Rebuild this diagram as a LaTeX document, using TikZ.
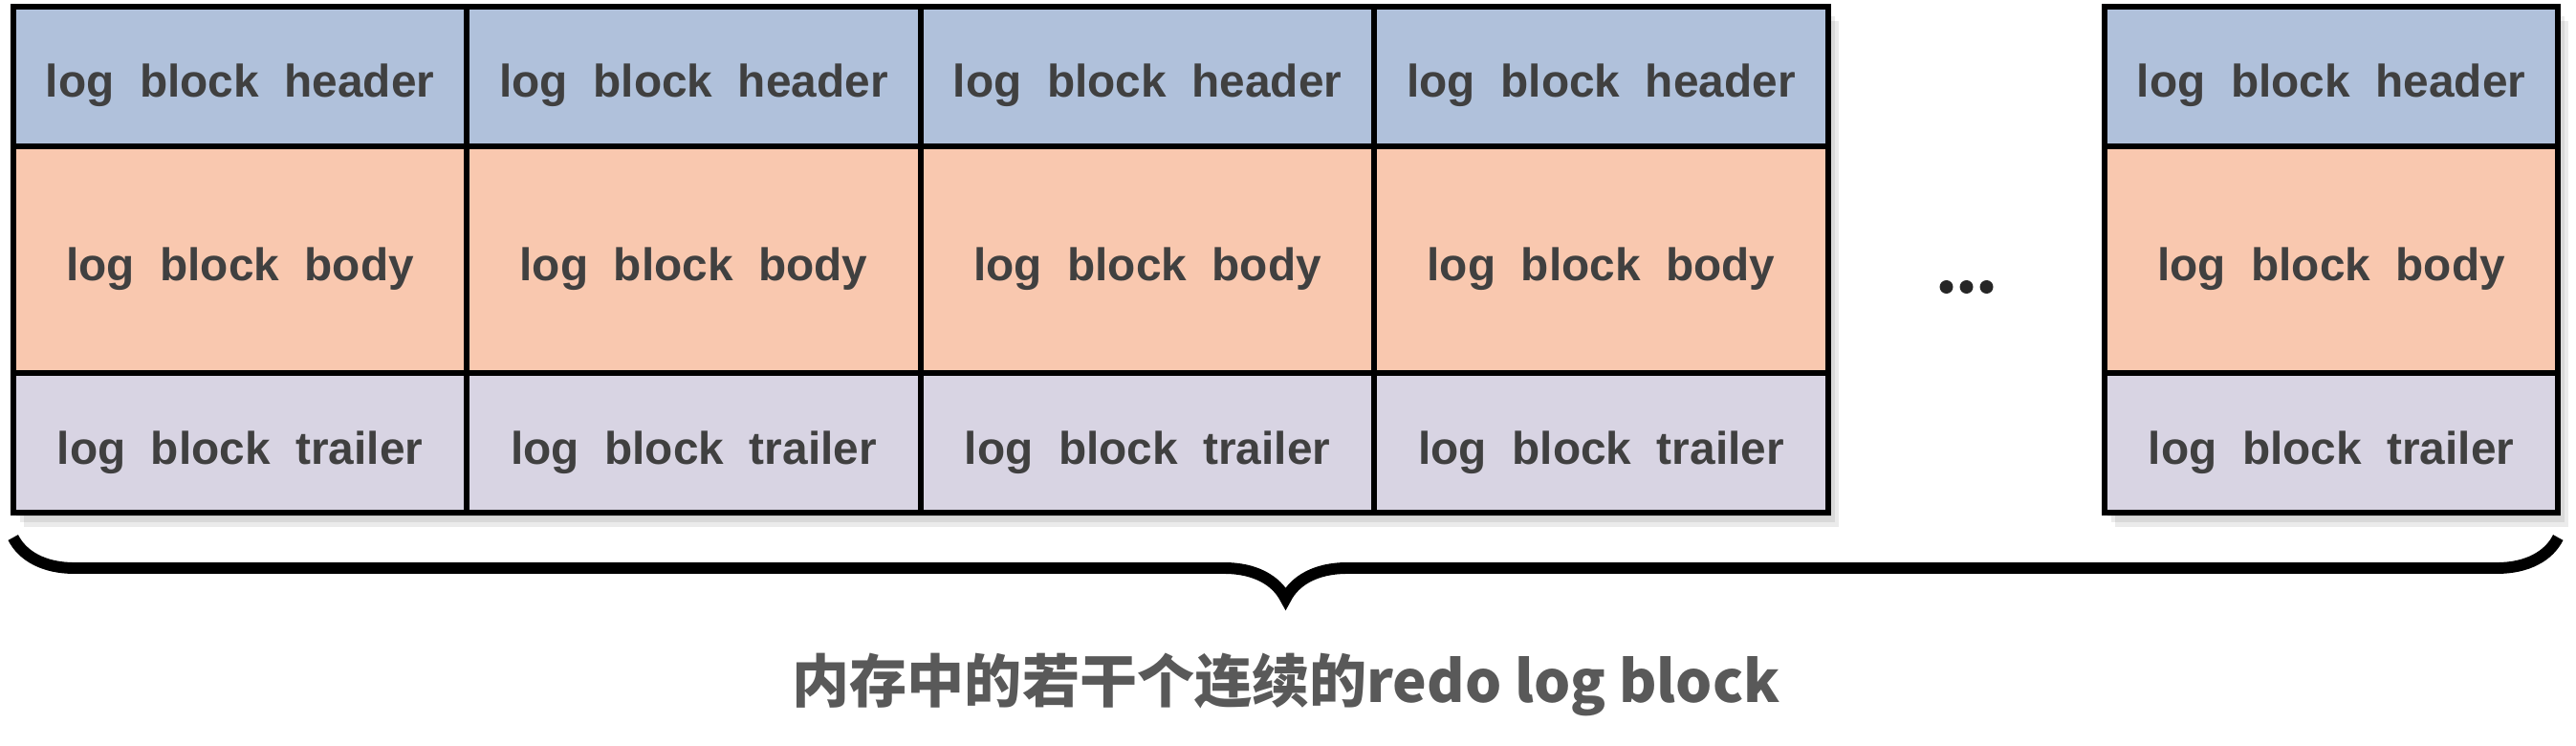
\documentclass[tikz,border=0pt]{standalone}
\usepackage{fontspec}
\setmainfont{Liberation Sans}
\newfontfamily\cjkfont{Noto Sans CJK SC}
\usepackage{xcolor}
\usepackage{tikz}
\usetikzlibrary{calc,positioning,decorations.pathreplacing,backgrounds}

\definecolor{hdrblue}{HTML}{B0C1DB}
\definecolor{bdypeach}{HTML}{F9C8AF}
\definecolor{trlgray}{HTML}{D8D4E3}
\definecolor{txtgray}{HTML}{404040}
\definecolor{ttlgray}{HTML}{595959}

\tikzset{
  cell/.style={draw=black, line width=1.7pt, minimum width=4.745cm, inner sep=0pt, outer sep=0pt,
    text height=0.44cm, text depth=0pt,
    text=txtgray, font=\fontsize{13.6pt}{16pt}\selectfont\bfseries},
  hdr/.style={cell, fill=hdrblue, minimum height=1.46cm},
  bdy/.style={cell, fill=bdypeach, minimum height=2.37cm},
  trl/.style={cell, fill=trlgray, minimum height=1.46cm},
  shade/.style={fill=black, opacity=0.08},
  brc/.style={decorate, decoration={brace, amplitude=0.64cm}, line width=3.4pt},
}

\begin{document}
\begin{tikzpicture}
            \useasboundingbox (0,0) rectangle (26.94,7.79);
            % first four blocks
            \node[hdr] at (2.51,6.99) (h1) {log\ \ block\ \ header};
            \node[hdr, right=0pt of h1] (h2) {log\ \ block\ \ header};
            \node[hdr, right=0pt of h2] (h3) {log\ \ block\ \ header};
            \node[hdr, right=0pt of h3] (h4) {log\ \ block\ \ header};
            \node[bdy, below=0pt of h1] (b1) {log\ \ block\ \ body};
            \node[bdy, below=0pt of h2] (b2) {log\ \ block\ \ body};
            \node[bdy, below=0pt of h3] (b3) {log\ \ block\ \ body};
            \node[bdy, below=0pt of h4] (b4) {log\ \ block\ \ body};
            \node[trl, below=0pt of b1] (t1) {log\ \ block\ \ trailer};
            \node[trl, below=0pt of b2] (t2) {log\ \ block\ \ trailer};
            \node[trl, below=0pt of b3] (t3) {log\ \ block\ \ trailer};
            \node[trl, below=0pt of b4] (t4) {log\ \ block\ \ trailer};
            % last block
            \node[hdr] at (24.38,6.99) (h5) {log\ \ block\ \ header};
            \node[bdy, below=0pt of h5] (b5) {log\ \ block\ \ body};
            \node[trl, below=0pt of b5] (t5) {log\ \ block\ \ trailer};
            % shadows
            \begin{scope}[on background layer]
                \foreach \s in {0.03,0.07,0.11} {
                    \fill[shade] ([shift={(\s,-1.4*\s)}]h1.north west) rectangle ([shift={(\s,-1.4*\s)}]t4.south east);
                    \fill[shade] ([shift={(\s,-1.4*\s)}]h5.north west) rectangle ([shift={(\s,-1.4*\s)}]t5.south east);
                }
            \end{scope}
            % dots
            \coordinate (dots) at (20.565,4.79);
            \foreach \i in {-1,0,1}
                \fill[black!85] ($(dots)+(\i*0.21,0)$) circle (0.07);
            % brace and caption
            \draw[brc] ([yshift=-0.26cm]t5.south east) -- ([yshift=-0.26cm]t1.south west);
            \node[text=ttlgray, font=\cjkfont\bfseries\fontsize{17.1pt}{20pt}\selectfont] at (13.45,0.63) (title) {内存中的若干个连续的redo log block};
\end{tikzpicture}
\end{document}
